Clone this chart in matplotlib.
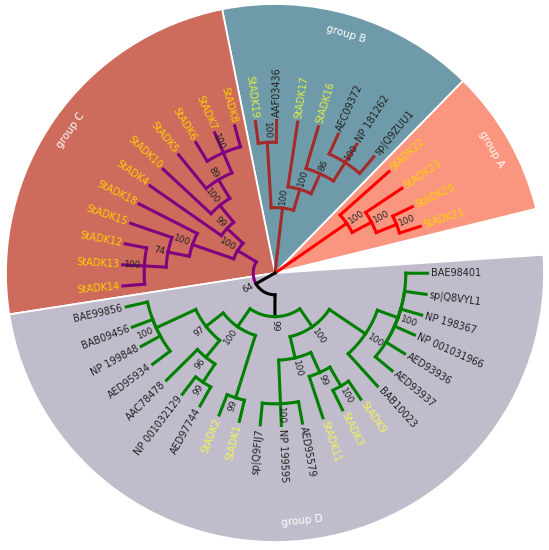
import numpy as np
import matplotlib
matplotlib.use('Agg')
import matplotlib.pyplot as plt

# tree of each group, newick with support values
tree_a = '(((StADK21,StADK20)100,StADK23)100,StADK22)100'
tree_b = '((((sp|Q9ZUU1,NP 181262,AEC09372)100,StADK16)86,StADK17)100,(AAF03436,StADK19)100)100'
tree_c = ('(((((StADK8,StADK7,StADK6)100,StADK5)89,StADK10)100,StADK4)99,'
          '(StADK18,(StADK15,(StADK12,StADK13,StADK14)100)74)100)100')
tree_d = ('((((BAE99856,BAB09456,NP 199848,AED95934)100,(AAC78478,(NP 001032129,AED97744)99)96)97,'
          '(StADK2,StADK1)99)100,(((sp|Q9FIJ7,NP 199595,AED95579)100,(StADK11,(StADK3,StADK9)100)99)100,'
          '(BAB10023,(AED93937,AED93936,NP 001031966,NP 198367,sp|Q8VYL1,BAE98401)100)100)100)99')
support_cd = '64'

group_names = ['group A', 'group B', 'group C', 'group D']
group_trees = [tree_a, tree_b, tree_c, tree_d]
group_colors = ['#FA9680', '#6F9AAA', '#CD6B5C', '#C0BCCB']
branch_colors = ['#FF0000', '#A52A2A', '#800080', '#008000']
label_colors = ['#FFD000', '#E0F040', '#FFD000', '#F5F550']

# layout (pixels / degrees)
START = 17.8
STEP = 7.956
UNIT = 21.8
R_WEDGE = 269
R_GROUP_LABEL = 249
RMAX = 280


def parse_newick(s):
    pos = 0

    def node():
        nonlocal pos
        if s[pos] == '(':
            pos += 1
            children = [node()]
            while s[pos] == ',':
                pos += 1
                children.append(node())
            pos += 1
            start = pos
            while pos < len(s) and s[pos] not in ',()':
                pos += 1
            return {'name': None, 'support': s[start:pos], 'children': children}
        start = pos
        while s[pos] not in ',()':
            pos += 1
        return {'name': s[start:pos], 'support': '', 'children': []}

    return node()


def paint(node, color, group):
    node['color'] = color
    node['group'] = group
    for ch in node['children']:
        paint(ch, color, group)


def layout(root):
    leaves = []

    def walk(n):
        if not n['children']:
            n['theta'] = START + len(leaves) * STEP
            n['h'] = 0
            leaves.append(n)
            return
        for ch in n['children']:
            walk(ch)
        n['theta'] = (n['children'][0]['theta'] + n['children'][-1]['theta']) / 2
        n['h'] = max(ch['h'] for ch in n['children']) + 1

    walk(root)
    H = root['h']

    def set_r(n):
        n['r'] = (H - n['h']) * UNIT
        for ch in n['children']:
            set_r(ch)

    set_r(root)
    return leaves


def flipped(theta):
    t = theta % 360
    return 90 < t < 269.5


def draw_node(ax, n):
    for ch in n['children']:
        th = np.deg2rad(np.linspace(n['theta'], ch['theta'], 40))
        ax.plot(th, np.full_like(th, n['r']), color=ch['color'], lw=2.2,
                solid_capstyle='projecting', zorder=3)
        ax.plot([np.deg2rad(ch['theta'])] * 2, [n['r'], ch['r']], color=ch['color'], lw=2.2,
                solid_capstyle='projecting', zorder=3)
        draw_node(ax, ch)
    if n['support'] and n['r'] > 0:
        t = n['theta']
        if flipped(t):
            rot, ha = t - 180, 'right'
        else:
            rot, ha = t, 'left'
        ax.text(np.deg2rad(t), n['r'] + 3, n['support'], rotation=rot, ha=ha, va='center',
                rotation_mode='anchor', fontsize=6.5, color='#222222', zorder=5)


def main():
    trees = [parse_newick(t) for t in group_trees]
    for g, t in enumerate(trees):
        paint(t, branch_colors[g], g)
    trees[3]['color'] = 'black'
    node_cd = {'name': None, 'support': support_cd, 'children': [trees[2], trees[3]],
               'color': 'black', 'group': None}
    root = {'name': None, 'support': '', 'children': [trees[0], trees[1], node_cd],
            'color': 'black', 'group': None}
    leaves = layout(root)

    fig = plt.figure(figsize=(5.49, 5.50), dpi=100)
    cx, cy = 275, 550 - 273
    ax = fig.add_axes([(cx - RMAX) / 549, (cy - RMAX) / 550, 2 * RMAX / 549, 2 * RMAX / 550],
                      projection='polar')
    ax.set_ylim(0, RMAX)
    ax.set_axis_off()

    # group sectors
    for g in range(4):
        angs = [lf['theta'] for lf in leaves if lf['group'] == g]
        a0 = min(angs) - STEP / 2
        a1 = max(angs) + STEP / 2
        mid = (a0 + a1) / 2
        ax.bar(np.deg2rad(mid), R_WEDGE, width=np.deg2rad(a1 - a0), bottom=0,
               color=group_colors[g], edgecolor='white', linewidth=1.3, zorder=1)
        rot = mid - 90
        if rot > 90:
            rot -= 180
        ax.text(np.deg2rad(mid), R_GROUP_LABEL, group_names[g], rotation=rot,
                ha='center', va='center', rotation_mode='anchor', fontsize=7.5,
                color='white', zorder=2)

    draw_node(ax, root)

    # leaf labels
    for lf in leaves:
        t = lf['theta']
        if flipped(t):
            rot, ha = t - 180, 'right'
        else:
            rot, ha = t, 'left'
        col = label_colors[lf['group']] if lf['name'].startswith('StADK') else '#222222'
        ax.text(np.deg2rad(t), lf['r'] + 3.5, lf['name'], rotation=rot, ha=ha, va='center',
                rotation_mode='anchor', fontsize=7, color=col, zorder=5)

    fig.savefig('out.png', dpi=100)


if __name__ == '__main__':
    main()
